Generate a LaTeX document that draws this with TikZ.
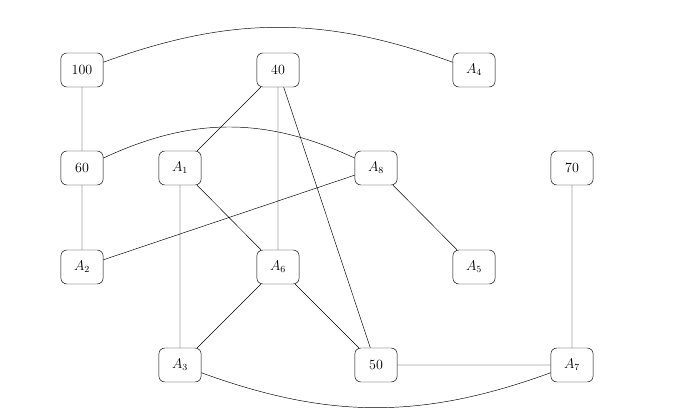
\documentclass[tikz,border=0pt]{standalone}
\begin{document}
\begin{tikzpicture}[x=0.03cm,y=-0.03cm,
 nb/.style={draw,rounded corners=5pt,minimum width=36pt,minimum height=29pt,inner sep=2pt,font=\large}]
\useasboundingbox (0,0) rectangle (689,419);
\node[nb] (n100) at (82,70) {100};
\node[nb] (n40) at (278,70) {40};
\node[nb] (a4) at (474,70) {$A_4$};
\node[nb] (n60) at (82,168) {60};
\node[nb] (a1) at (180,168) {$A_1$};
\node[nb] (a8) at (376,168) {$A_8$};
\node[nb] (n70) at (572,168) {70};
\node[nb] (a2) at (82,267) {$A_2$};
\node[nb] (a6) at (278,267) {$A_6$};
\node[nb] (a5) at (474,267) {$A_5$};
\node[nb] (a3) at (180,365) {$A_3$};
\node[nb] (n50) at (376,365) {50};
\node[nb] (a7) at (572,365) {$A_7$};
\draw (n100) to[bend left=20] (a4);
\draw (n60) to[bend left=25] (a8);
\draw (a3) to[bend right=20] (a7);
\draw (n100)--(n60) (n60)--(a2) (n40)--(a1) (n40)--(a6) (n40)--(n50)
 (a1)--(a6) (a1)--(a3) (a8)--(a2) (a8)--(a5) (a6)--(a3) (a6)--(n50)
 (n50)--(a7) (n70)--(a7);
\end{tikzpicture}
\end{document}
